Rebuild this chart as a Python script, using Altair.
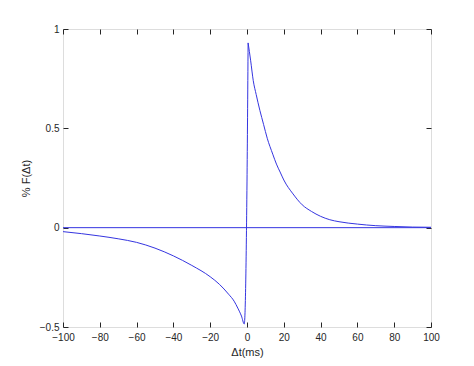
import altair as alt
import pandas as pd

# Negative branch (Δt < 0), including the jump up at Δt = 0
neg_x = [-100, -90, -80, -70, -60, -50, -40, -30, -20, -15, -10, -7, -5, -3, -1.5, 0, 0.6]
neg_y = [-0.020, -0.030, -0.042, -0.056, -0.074, -0.103, -0.142, -0.190, -0.247,
         -0.285, -0.335, -0.370, -0.405, -0.445, -0.485, 0.23, 0.93]

# Positive branch (Δt > 0), from the peak onwards
pos_x = [0.6, 2, 3.4, 5, 7, 9, 11, 14, 16, 18, 20, 25, 30, 35, 40, 45, 50,
         60, 70, 80, 90, 100]
pos_y = [0.93, 0.84, 0.74, 0.67, 0.59, 0.52, 0.45, 0.37, 0.32, 0.28, 0.24,
         0.17, 0.115, 0.082, 0.057, 0.04, 0.03, 0.018, 0.010, 0.006, 0.003, 0.002]

# Zero reference line
zero_x = [-100, 100]
zero_y = [0, 0]

x_ticks = [-100, -80, -60, -40, -20, 0, 20, 40, 60, 80, 100]
y_ticks = [-0.5, 0, 0.5, 1]

neg_df = pd.DataFrame({"x": neg_x, "y": neg_y})
pos_df = pd.DataFrame({"x": pos_x, "y": pos_y})
zero_df = pd.DataFrame({"x": zero_x, "y": zero_y})

BLUE = "#3535e0"
FONT = "Liberation Sans"
TXT = "#262626"
xs = alt.Scale(domain=[-100, 100], nice=False, zero=False)
ys = alt.Scale(domain=[-0.5, 1], nice=False, zero=False)

tick_axis = dict(labels=False, domain=False, ticks=True, tickSize=5, offset=-5,
                 grid=False, title=None, tickColor=TXT)

layer_neg = alt.Chart(neg_df).mark_line(color=BLUE, strokeWidth=1, interpolate="monotone").encode(
    x=alt.X("x:Q", scale=xs, axis=alt.Axis(orient="bottom", values=x_ticks, ticks=False,
                                           domain=False, labelPadding=5, labelFlush=False,
                                           title="Δt(ms)", titlePadding=4, grid=False,
                                           format="d", titleFontWeight="normal",
                                           labelFont=FONT, labelFontSize=10, labelColor=TXT,
                                           titleFont=FONT, titleFontSize=11, titleColor=TXT)),
    y=alt.Y("y:Q", scale=ys, axis=alt.Axis(orient="left", values=y_ticks, ticks=False,
                                           domain=False, labelPadding=4, labelFlush=False,
                                           title="% F(Δt)", titlePadding=8, grid=False,
                                           format="~g", titleFontWeight="normal",
                                           labelFont=FONT, labelFontSize=10, labelColor=TXT,
                                           titleFont=FONT, titleFontSize=11, titleColor=TXT)),
    order="x:Q",
)

layer_zero = alt.Chart(zero_df).mark_line(color=BLUE, strokeWidth=1).encode(
    x=alt.X("x:Q", scale=xs, axis=alt.Axis(orient="bottom", values=x_ticks, **tick_axis)),
    y=alt.Y("y:Q", scale=ys, axis=alt.Axis(orient="left", values=y_ticks, **tick_axis)),
)

layer_pos = alt.Chart(pos_df).mark_line(color=BLUE, strokeWidth=1, interpolate="monotone").encode(
    x=alt.X("x:Q", scale=xs, axis=alt.Axis(orient="top", values=x_ticks, **tick_axis)),
    y=alt.Y("y:Q", scale=ys, axis=alt.Axis(orient="right", values=y_ticks, **tick_axis)),
    order="x:Q",
)

chart = alt.layer(layer_neg, layer_zero, layer_pos).resolve_axis(
    x="independent", y="independent"
).properties(
    width=368, height=298,
    autosize=alt.AutoSizeParams(type="none"),
    padding={"left": 55, "top": 21, "right": 35, "bottom": 37},
).configure_view(
    stroke=TXT, strokeWidth=1
).configure(background="white")

chart.save("out.html", embed_options={"renderer": "svg", "actions": False})
